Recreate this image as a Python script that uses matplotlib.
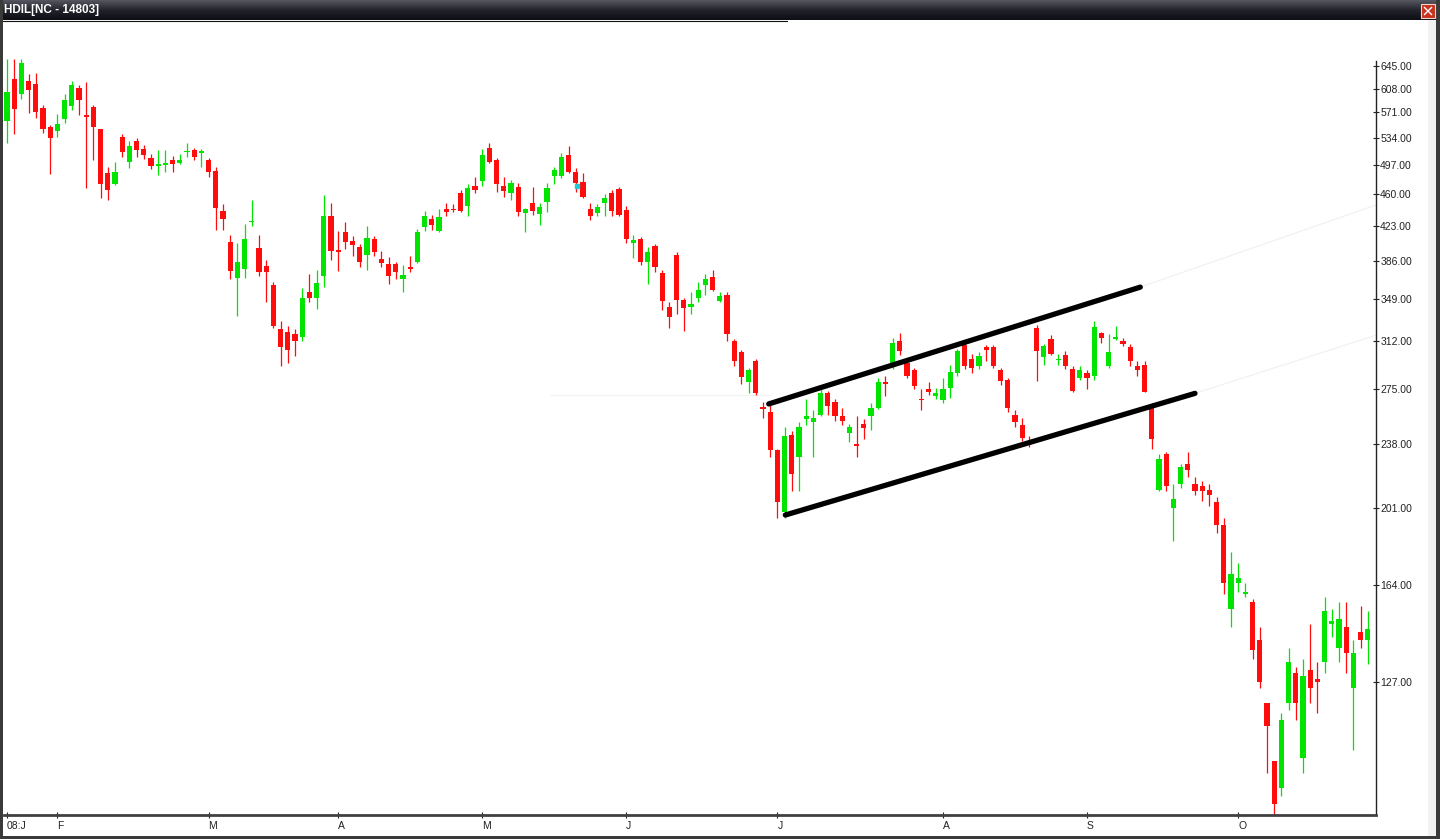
import numpy as np
import matplotlib
matplotlib.use("Agg")
import matplotlib.pyplot as plt
from matplotlib.patches import Rectangle
from matplotlib.lines import Line2D
from matplotlib.colors import LinearSegmentedColormap
from matplotlib.ticker import NullLocator, NullFormatter

plt.rcParams["font.family"] = ["Liberation Sans", "DejaVu Sans"]

W, H = 1440, 839

# HDIL daily candles, late Jan 2008 -> Oct 2008
opens = [558, 623, 599, 621, 616, 577, 549, 543, 561, 580, 609, 567, 579, 547, 487, 473, 535, 501, 530,
         518, 506, 496, 497, 503, 500, 514, 517, 513, 503, 489, 440, 406, 369, 378, 427, 399, 381, 362, 322, 320,
         318, 316, 355, 350, 371, 434, 397, 416, 407, 400, 392, 409, 388, 383, 383, 368, 380, 385, 422, 431,
         417, 443, 442, 461, 446, 470, 476, 520, 503, 470, 462, 469, 438, 449, 437, 451, 483, 483, 510, 488,
         475, 443, 438, 449, 461, 467, 441, 404, 409, 385, 401, 374, 342, 392, 348, 342, 350, 362, 370, 347,
         353, 312, 303, 280, 296, 262, 259, 234, 199, 244, 230, 254, 252, 257, 272, 266, 256, 245, 238, 251,
         256, 262, 280, 292, 312, 295, 289, 268, 275, 270, 267, 276, 287, 309, 298, 292, 307, 307, 289, 282,
         257, 250, 240, 323, 299, 314, 297, 301, 290, 283, 287, 285, 319, 292, 314, 312, 307, 292, 293, 263,
         211, 232, 201, 214, 226, 214, 213, 211, 204, 192, 154, 165, 160, 157, 142, 120, 103, 96, 120, 130,
         104, 131, 128, 134, 148, 139, 147, 125, 145, 142]
highs = [657, 657, 657, 632, 633, 582, 552, 568, 599, 621, 613, 619, 582, 547, 494, 501, 539, 530, 534,
         524, 511, 517, 517, 509, 511, 527, 520, 518, 506, 494, 448, 413, 404, 425, 453, 413, 387, 365, 329, 325,
         322, 359, 373, 377, 459, 449, 417, 427, 412, 403, 423, 412, 396, 390, 385, 382, 391, 420, 440, 435,
         443, 449, 448, 465, 472, 481, 518, 526, 506, 481, 478, 474, 444, 469, 450, 474, 494, 513, 523, 493,
         487, 449, 448, 460, 465, 469, 446, 413, 411, 400, 403, 377, 346, 395, 350, 355, 365, 373, 377, 355,
         355, 314, 305, 291, 298, 266, 265, 235, 249, 246, 252, 268, 260, 276, 274, 268, 262, 251, 256, 254,
         265, 283, 285, 315, 319, 297, 291, 275, 280, 276, 283, 293, 306, 311, 302, 303, 309, 309, 291, 283,
         260, 255, 243, 326, 310, 317, 302, 304, 292, 292, 289, 329, 320, 318, 325, 315, 310, 296, 296, 265,
         232, 233, 214, 226, 233, 218, 216, 214, 207, 196, 179, 174, 165, 158, 147, 120, 103, 117, 139, 132,
         135, 148, 134, 159, 154, 157, 157, 142, 155, 153]
lows = [527, 539, 592, 570, 562, 540, 485, 535, 555, 575, 567, 468, 503, 456, 453, 471, 507, 493, 507,
        505, 492, 484, 488, 488, 498, 508, 503, 494, 481, 419, 419, 368, 334, 369, 423, 371, 346, 323, 292, 295,
        300, 312, 346, 340, 360, 387, 376, 398, 391, 380, 377, 391, 380, 363, 368, 355, 375, 384, 417, 419,
        416, 434, 439, 439, 434, 462, 470, 500, 463, 457, 453, 434, 416, 435, 424, 439, 472, 480, 487, 463,
        456, 430, 434, 434, 434, 434, 404, 389, 382, 363, 375, 339, 323, 335, 321, 335, 346, 353, 356, 346,
        312, 292, 279, 272, 271, 255, 230, 196, 196, 210, 210, 250, 230, 256, 257, 253, 250, 239, 230, 241,
        247, 261, 270, 290, 301, 283, 275, 260, 271, 268, 265, 269, 285, 290, 287, 290, 296, 291, 278, 259,
        249, 240, 236, 281, 293, 301, 293, 290, 273, 282, 275, 282, 311, 291, 313, 308, 292, 285, 273, 235,
        210, 210, 184, 212, 218, 208, 205, 202, 188, 160, 147, 161, 159, 135, 125, 100, 89, 94, 118, 115,
        100, 120, 117, 130, 143, 134, 130, 106, 139, 133]
closes = [602, 576, 650, 605, 571, 547, 534, 553, 590, 614, 590, 564, 549, 473, 465, 488, 514, 522, 517,
          510, 496, 497, 499, 498, 504, 515, 508, 516, 488, 444, 431, 376, 385, 409, 428, 375, 375, 325, 307, 305,
          312, 350, 350, 364, 434, 396, 395, 405, 402, 385, 410, 395, 384, 371, 375, 372, 378, 416, 434, 424,
          433, 439, 441, 440, 468, 465, 510, 501, 473, 464, 474, 439, 442, 440, 445, 468, 491, 507, 488, 474,
          457, 434, 445, 456, 440, 436, 409, 408, 385, 395, 380, 347, 333, 348, 341, 344, 357, 368, 357, 352,
          318, 296, 284, 289, 272, 261, 234, 204, 243, 220, 249, 256, 255, 272, 263, 256, 253, 249, 237, 248,
          262, 280, 279, 311, 304, 285, 277, 267, 273, 272, 275, 288, 304, 292, 291, 300, 305, 292, 281, 262,
          252, 242, 238, 304, 308, 302, 298, 292, 274, 289, 283, 324, 315, 303, 315, 310, 296, 289, 273, 241,
          229, 213, 206, 224, 222, 210, 210, 208, 192, 165, 169, 167, 161, 138, 127, 113, 92, 115, 134, 120,
          129, 125, 127, 153, 149, 150, 137, 137, 142, 146]

price_ticks = [645, 608, 571, 534, 497, 460, 423, 386, 349, 312, 275, 238, 201, 164, 127]
month_pos = [0, 7, 28, 46, 66, 86, 107, 130, 150, 171]
month_labels = ["08:J", "F", "M", "A", "M", "J", "J", "A", "S", "O"]

# hand drawn channel (candle index, price)
upper_x = [105.8, 157.4]
upper_y = [264.5, 360]
lower_x = [108.1, 165.0]
lower_y = [197.3, 272]
upper_ext_x = [157.4, 190.1]
upper_ext_y = [360, 447]
lower_ext_x = [165.0, 190.1]
lower_ext_y = [272, 317]
flat_x = [75.4, 106]
flat_y = [271, 271]

GREEN = "#00e400"
RED = "#ff0c0c"

fig = plt.figure(figsize=(W / 100, H / 100), dpi=100)
fig.patch.set_facecolor("white")

ax = fig.add_axes([4 / W, 1 - 815 / H, (1376 - 4) / W, (815 - 22) / H])
ax.set_facecolor("white")
ax.set_yscale("log")

o = np.array(opens, float)
h = np.array(highs, float)
l = np.array(lows, float)
c = np.array(closes, float)
x = np.arange(len(o))
cols = np.where(c >= o, GREEN, RED)

ax.vlines(x, l, h, colors=cols, lw=0.9, zorder=2)
bot = np.minimum(o, c)
top = np.maximum(np.maximum(o, c), bot * 1.004)
ax.bar(x, top - bot, bottom=bot, width=0.72, color=cols, lw=0, zorder=3)

# faint helper lines
ax.plot(upper_ext_x, upper_ext_y, color="#f0f0f0", lw=0.8, zorder=1)
ax.plot(lower_ext_x, lower_ext_y, color="#f0f0f0", lw=0.8, zorder=1)
ax.plot(flat_x, flat_y, color="#f2f2f2", lw=0.8, zorder=1)

# channel
ax.plot(upper_x, upper_y, color="black", lw=3.8, solid_capstyle="round", zorder=5)
ax.plot(lower_x, lower_y, color="black", lw=3.8, solid_capstyle="round", zorder=5)

ax.plot([79.2], [470], marker="s", ms=3, color="#20c8d8", zorder=6)

ax.set_xlim(-0.42, 190.14)
ax.set_ylim(89.4, 724.7)

ax.yaxis.tick_right()
ax.set_yticks(price_ticks)
ax.set_yticklabels([f"{p:.2f}" for p in price_ticks])
ax.yaxis.set_minor_locator(NullLocator())
ax.yaxis.set_minor_formatter(NullFormatter())
ax.tick_params(axis="y", direction="inout", length=5, width=0.8, colors="#222222",
               labelsize=7.5, pad=0.5)

ax.set_xticks(month_pos)
ax.set_xticklabels(month_labels)
for lab in ax.get_xticklabels():
    lab.set_ha("left")
    lab.set_x(lab.get_position()[0])
ax.tick_params(axis="x", direction="inout", length=5, width=0.8, colors="#222222",
               labelsize=7.5, pad=2)

ax.spines["left"].set_visible(False)
ax.spines["top"].set_visible(False)
ax.spines["right"].set_bounds(89.4, 654)
ax.spines["right"].set_color("#222222")
ax.spines["right"].set_linewidth(1)
ax.spines["bottom"].set_color("#404040")
ax.spines["bottom"].set_linewidth(2)

# window frame
tb = fig.add_axes([0, 1 - 20 / H, 1, 20 / H])
grad = np.linspace(0, 1, 20).reshape(-1, 1)
cmap = LinearSegmentedColormap.from_list("tb", ["#55555f", "#23232c", "#0e0e15"])
tb.imshow(grad, aspect="auto", cmap=cmap, extent=[0, 1, 0, 1])
tb.set_axis_off()
tb.text(4 / W, 0.5, "HDIL[NC - 14803]", color="white", fontsize=8.5, fontweight="bold",
        va="center", ha="left", transform=tb.transAxes)

fig.add_artist(Rectangle((1421 / W, 1 - 18 / H), 14 / W, 14 / H, transform=fig.transFigure,
                         facecolor="#c8321e", edgecolor="#f2d6cc", lw=0.8, zorder=10))
fig.add_artist(Line2D([1424.5 / W, 1431.5 / W], [1 - 7.5 / H, 1 - 14.5 / H], color="white", lw=1, zorder=11))
fig.add_artist(Line2D([1424.5 / W, 1431.5 / W], [1 - 14.5 / H, 1 - 7.5 / H], color="white", lw=1, zorder=11))

fig.add_artist(Line2D([0, 787 / W], [1 - 20.5 / H, 1 - 20.5 / H], color="#111111", lw=0.8, zorder=9))
fig.add_artist(Rectangle((0, 0), 3 / W, 1, transform=fig.transFigure, facecolor="#3a3a3a", lw=0, zorder=9))
fig.add_artist(Rectangle((1436 / W, 0), 4 / W, 1, transform=fig.transFigure, facecolor="#3a3a3a", lw=0, zorder=9))
fig.add_artist(Rectangle((1428 / W, 0), 8 / W, 1 - 20 / H, transform=fig.transFigure, facecolor="#f2f2f2", lw=0, zorder=8))
fig.add_artist(Rectangle((0, 0), 1, 3 / H, transform=fig.transFigure, facecolor="#3a3a3a", lw=0, zorder=9))

fig.savefig("out.png", dpi=100)
